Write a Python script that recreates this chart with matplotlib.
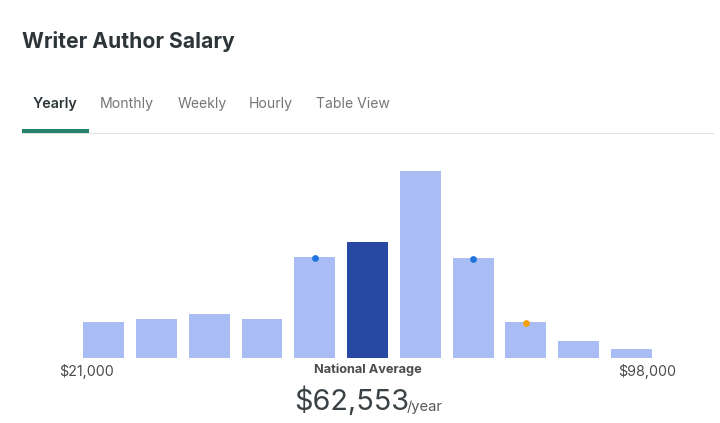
import matplotlib
matplotlib.use("Agg")
import matplotlib.pyplot as plt
from matplotlib.patches import Rectangle

plt.rcParams['font.family'] = ['Inter', 'DejaVu Sans']

title = "Writer Author Salary"
tabs = ["Yearly", "Monthly", "Weekly", "Hourly", "Table View"]
bar_values = [36, 39, 44, 39, 101, 116, 187, 100, 36, 17, 9]
highlight_bar = 5
blue_dots = [(4, 100), (7, 99)]
orange_dots = [(8, 35)]
low_label = "$21,000"
high_label = "$98,000"
avg_label = "National Average"
avg_value = "$62,553"
avg_unit = "/year"

W, H = 720, 423
fig = plt.figure(figsize=(W / 100, H / 100), dpi=100, facecolor="white")


# helper, text placed by pixel from top left
def px_text(x, y, s, **kw):
    kw.setdefault("va", "center")
    return fig.text(x / W, 1 - y / H, s, **kw)


px_text(22, 41, title, fontsize=15.2, fontweight="bold", color="#2d3539")

tab_x = [33, 100, 178, 249, 316]
for i, (x, t) in enumerate(zip(tab_x, tabs)):
    if i == 0:
        px_text(x, 104, t, fontsize=10.3, fontweight="semibold", color="#2d3539")
    else:
        px_text(x, 104, t, fontsize=10.1, color="#767676")

# tab underline
fig.add_artist(Rectangle((22 / W, 1 - 134 / H), 692 / W, 1 / H, transform=fig.transFigure,
                         facecolor="#e2e2e2", edgecolor="none"))
fig.add_artist(Rectangle((22 / W, 1 - 133 / H), 67 / W, 3.5 / H, transform=fig.transFigure,
                         facecolor="#25826b", edgecolor="none"))

# bars
ax = fig.add_axes([77.4 / W, 1 - 358 / H, 580.3 / W, 208 / H])
ax.set_xlim(-0.5, 10.5)
ax.set_ylim(0, 208)
ax.axis("off")
colors = ["#2849a3" if i == highlight_bar else "#a9bcf3" for i in range(len(bar_values))]
ax.bar(range(len(bar_values)), bar_values, width=0.775, color=colors)

ax.scatter([d[0] for d in blue_dots], [d[1] for d in blue_dots], s=24, color="#1f74e0",
           linewidths=0, zorder=3, clip_on=False)
ax.scatter([d[0] for d in orange_dots], [d[1] for d in orange_dots], s=24, color="#f59f0b",
           linewidths=0, zorder=3, clip_on=False)

px_text(87, 371, low_label, fontsize=10.3, color="#4b4b4b", ha="center")
px_text(647, 371, high_label, fontsize=10.3, color="#4b4b4b", ha="center")
px_text(367.5, 370, avg_label, fontsize=9.2, fontweight="bold", color="#4b4b4b", ha="center")
px_text(294, 401, avg_value, fontsize=20.8, color="#3a4246")
px_text(407, 407, avg_unit, fontsize=10.6, color="#595959")

fig.savefig("out.png", dpi=100)
